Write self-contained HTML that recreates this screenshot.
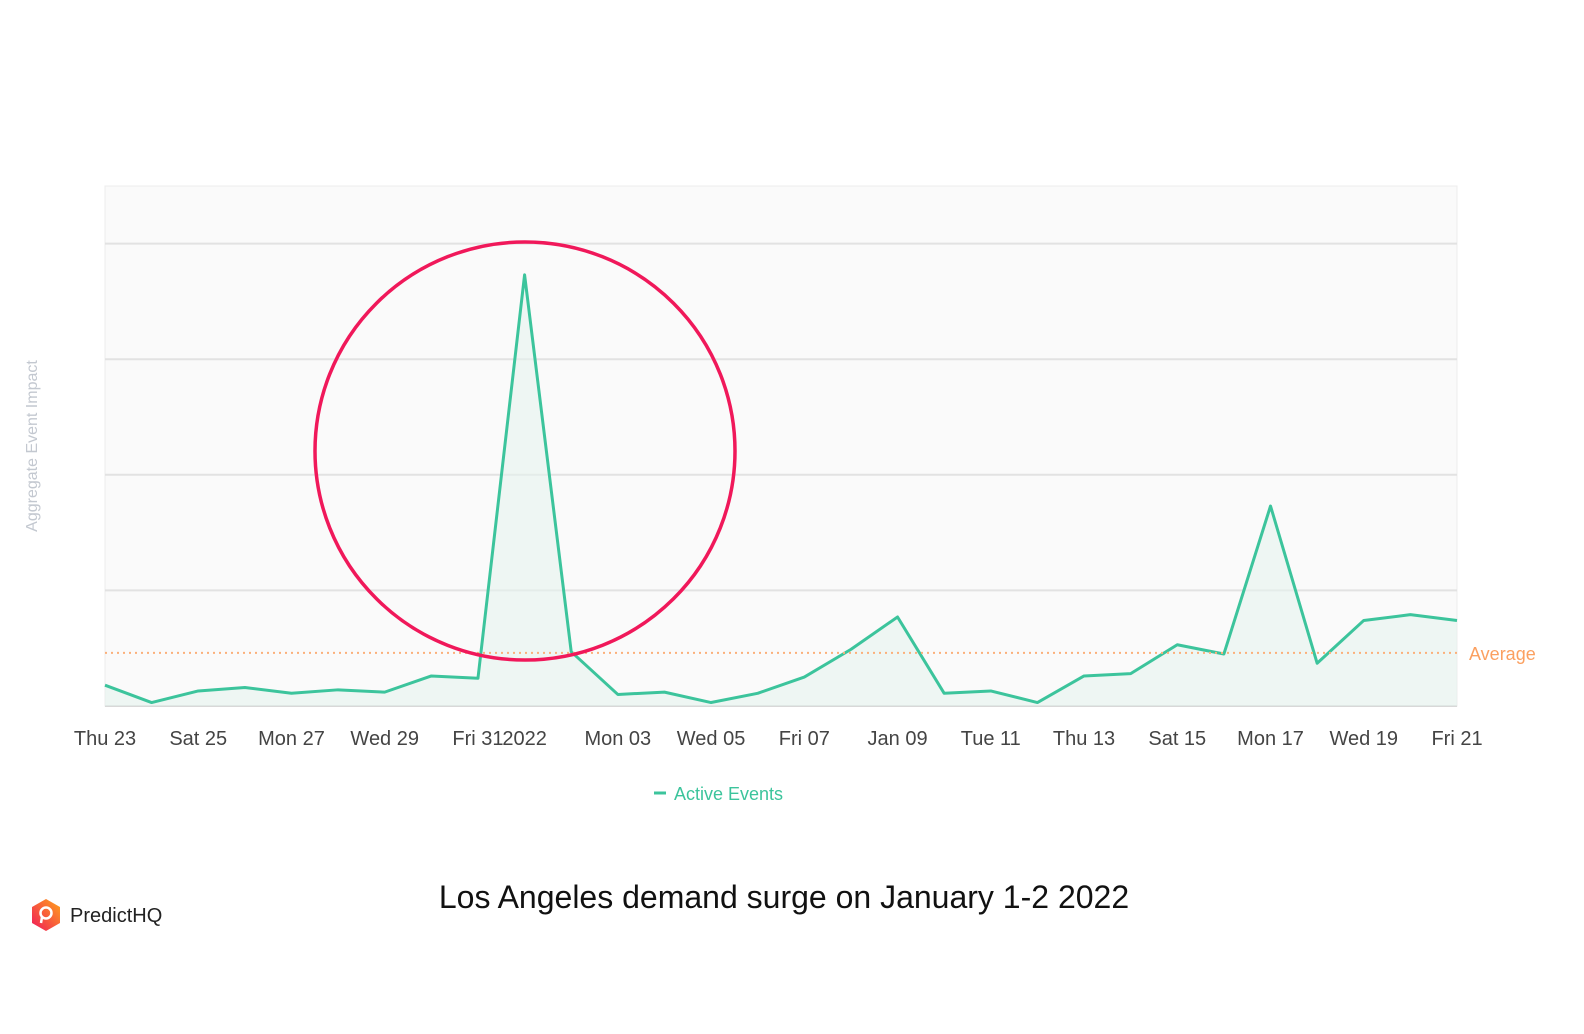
<!DOCTYPE html>
<html><head><meta charset="utf-8"><style>
body{margin:0;background:#fff;width:1584px;height:1034px;overflow:hidden;font-family:"Liberation Sans",sans-serif}
svg{position:absolute;left:0;top:0}
</style></head><body>
<svg width="1584" height="1034" id="chart">
<rect x="105" y="186" width="1352" height="520" fill="#fafafa" stroke="#ececec"/>
<g id="grid"></g>
<g id="series"></g>
<g id="xticks" font-size="20" fill="#444" text-anchor="middle"></g>
<text x="37" y="446" transform="rotate(-90 37 446)" font-size="16" fill="#c3c8d0" text-anchor="middle">Aggregate Event Impact</text>
<ellipse cx="525" cy="451" rx="210" ry="209" fill="none" stroke="#f0185a" stroke-width="3.5"/>
<g>
<line x1="654" y1="793" x2="666" y2="793" stroke="#3cc49c" stroke-width="3"/>
<text x="674" y="800" font-size="18" fill="#3cc49c">Active Events</text></g>
<text x="784" y="908" font-size="32" fill="#111" text-anchor="middle">Los Angeles demand surge on January 1-2 2022</text>
<g>
<defs><linearGradient id="lg" x1="0" y1="1" x2="1" y2="0"><stop offset="0" stop-color="#f0185a"/><stop offset="1" stop-color="#ffa41b"/></linearGradient></defs>
<polygon points="46,899 60,907 60,923 46,931 32,923 32,907" fill="url(#lg)"/>
<circle cx="46" cy="913" r="5.5" fill="none" stroke="#fff" stroke-width="2.5"/>
<line x1="42" y1="917" x2="41" y2="923" stroke="#fff" stroke-width="2.5"/>
<text x="70" y="922" font-size="20" fill="#222">PredictHQ</text></g>
</svg>
<script>
const values=[0.18,0.03,0.13,0.16,0.11,0.14,0.12,0.26,0.24,3.73,0.47,0.10,0.12,0.03,0.11,0.25,0.49,0.77,0.11,0.13,0.03,0.26,0.28,0.53,0.45,1.73,0.37,0.74,0.79,0.74];
const tickIdx=[0,2,4,6,8,9,11,13,15,17,19,21,23,25,27,29];
const tickLabels=["Thu 23","Sat 25","Mon 27","Wed 29","Fri 31","2022","Mon 03","Wed 05","Fri 07","Jan 09","Tue 11","Thu 13","Sat 15","Mon 17","Wed 19","Fri 21"];
const gridVals=[1,2,3,4];
const average=0.46;
const NS="http://www.w3.org/2000/svg";
const X0=105,X1=1457,Y0=706,PX=115.6;
const x=i=>X0+i*(X1-X0)/(values.length-1);
const y=v=>Y0-v*PX;
function mk(t,a,p){const e=document.createElementNS(NS,t);for(const k in a)e.setAttribute(k,a[k]);p.appendChild(e);return e;}
const grid=document.getElementById('grid'),ser=document.getElementById('series'),xt=document.getElementById('xticks');
gridVals.forEach(g=>{const l=mk('line',{x1:X0,x2:X1,y1:y(g),y2:y(g),stroke:'#e2e2e2','stroke-width':2},grid);

});
const bl=mk('line',{x1:X0,x2:X1,y1:Y0,y2:Y0,stroke:'#d8d8d8','stroke-width':2},grid);


let pts=values.map((v,i)=>x(i)+','+y(v)).join(' ');
const area=mk('polygon',{points:X0+','+Y0+' '+pts+' '+X1+','+Y0,fill:'#e6f3ee','fill-opacity':0.6},ser);


const line=mk('polyline',{points:pts,fill:'none',stroke:'#3cc49c','stroke-width':3,'stroke-linejoin':'round'},ser);


const av=mk('line',{x1:X0,x2:X1,y1:y(average),y2:y(average),stroke:'#fbb07a','stroke-width':2,'stroke-dasharray':'2 4'},ser);


const at=mk('text',{x:1469,y:y(average)+7,'font-size':18,fill:'#fba060'},ser);at.textContent='Average';


tickIdx.forEach((i,k)=>{const t=mk('text',{x:x(i),y:745},xt);t.textContent=tickLabels[k];

});
</script>
</body></html>
